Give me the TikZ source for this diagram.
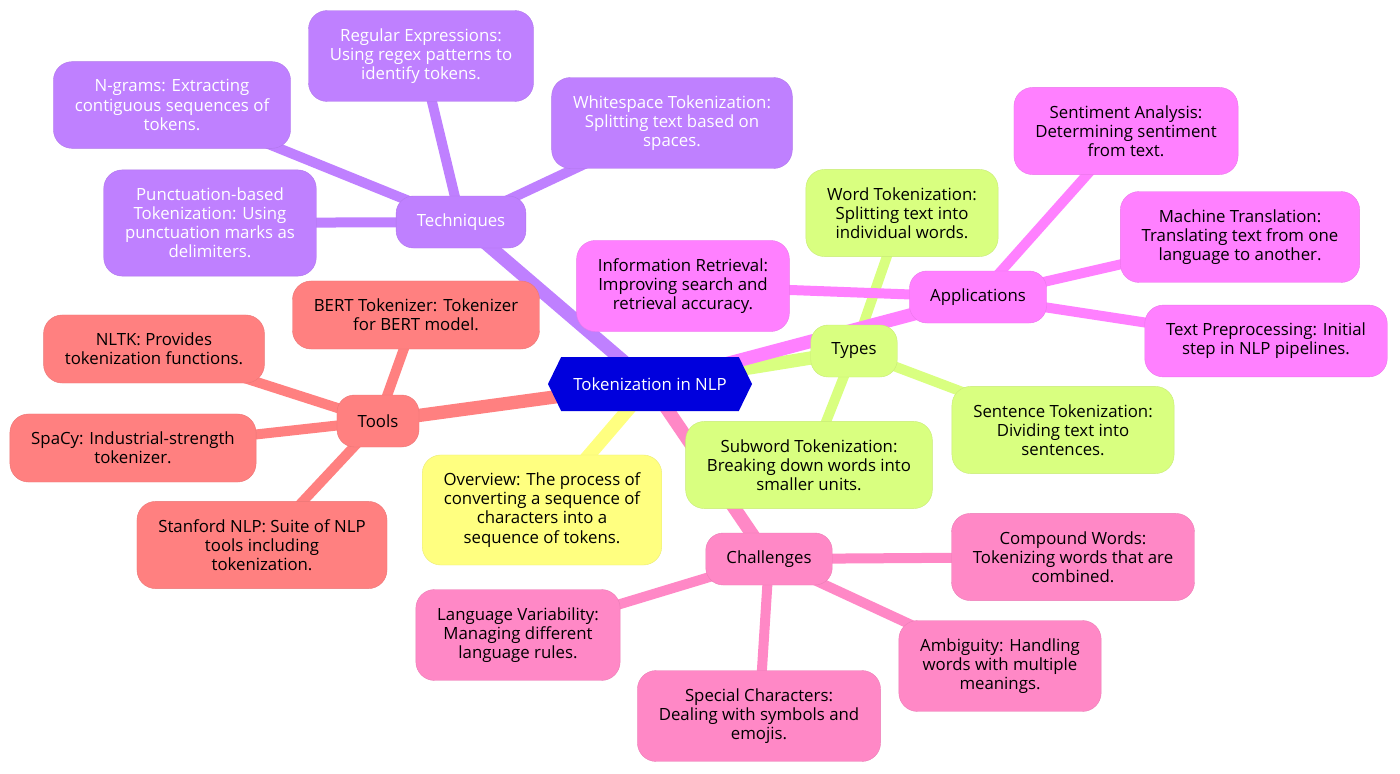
\documentclass[tikz,border=0pt]{standalone}
\usepackage{fontspec}
\setmainfont{Open Sans}
\usetikzlibrary{shapes.symbols,backgrounds}

\definecolor{rootblue}{HTML}{0000DD}
\definecolor{tech}{HTML}{BF80FF}
\definecolor{tool}{HTML}{FF8080}
\definecolor{over}{HTML}{FFFF80}
\definecolor{type}{HTML}{D9FF80}
\definecolor{app}{HTML}{FF80FF}
\definecolor{chal}{HTML}{FF88C6}

\begin{document}
\begin{tikzpicture}[x=0.75pt, y=-0.75pt,
	every node/.style={font=\fontsize{12.6}{14.3}\selectfont, align=center},
	root/.style={signal, signal to=west and east, signal pointer angle=128, fill=rootblue, text=white, minimum width=153pt, minimum height=40.5pt, inner xsep=2pt},
	cat/.style={rounded corners=13pt, fill=#1, draw=#1!92!black, line width=.3pt, inner xsep=15.5pt, inner ysep=13pt, minimum height=39pt},
	leaf/.style={rounded corners=14pt, fill=#1, draw=#1!92!black, line width=.3pt, inner xsep=16pt, inner ysep=13.5pt},
	w/.style={text=white},
	br/.style={draw=#1, line width=10pt},
	tw/.style={draw=#1, line width=7.5pt}]
		\path[use as bounding box] (0,0) rectangle (1400,774);

		\node[root] (nlp) at (650,384) {Tokenization in NLP};

		\node[cat=tech, w] (tech) at (461,222) {Techniques};
		\node[leaf=tech, w] (regex) at (421,56) {Regular Expressions:\\Using regex patterns to\\identify tokens.};
		\node[leaf=tech, w] (ngram) at (172,105) {N-grams: Extracting\\contiguous sequences of\\tokens.};
		\node[leaf=tech, w] (space) at (672,123) {Whitespace Tokenization:\\Splitting text based on\\spaces.};
		\node[leaf=tech, w] (punct) at (210,223) {Punctuation-based\\Tokenization: Using\\punctuation marks as\\delimiters.};

		\node[cat=tool] (tools) at (378,421) {Tools};
		\node[leaf=tool] (bert) at (416,315) {BERT Tokenizer: Tokenizer\\for BERT model.};
		\node[leaf=tool] (nltk) at (154,349) {NLTK: Provides\\tokenization functions.};
		\node[leaf=tool] (spacy) at (133,448) {SpaCy: Industrial-strength\\tokenizer.};
		\node[leaf=tool] (stanford) at (262,545) {Stanford NLP: Suite of NLP\\tools including\\tokenization.};

		\node[leaf=over] (overview) at (542,510) {Overview: The process of\\converting a sequence of\\characters into a\\sequence of tokens.};

		\node[cat=type] (types) at (854,351) {Types};
		\node[leaf=type] (word) at (902,213) {Word Tokenization:\\Splitting text into\\individual words.};
		\node[leaf=type] (subword) at (809,465) {Subword Tokenization:\\Breaking down words into\\smaller units.};
		\node[leaf=type] (sentence) at (1063,430) {Sentence Tokenization:\\Dividing text into\\sentences.};

		\node[cat=app] (apps) at (978,297) {Applications};
		\node[leaf=app] (sentiment) at (1126,131) {Sentiment Analysis:\\Determining sentiment\\from text.};
		\node[leaf=app] (mt) at (1240,237) {Machine Translation:\\Translating text from one\\language to another.};
		\node[leaf=app] (prep) at (1266,341) {Text Preprocessing: Initial\\step in NLP pipelines.};
		\node[leaf=app] (ir) at (683,286) {Information Retrieval:\\Improving search and\\retrieval accuracy.};

		\node[cat=chal] (chal) at (769,559) {Challenges};
		\node[leaf=chal] (compound) at (1073,557) {Compound Words:\\Tokenizing words that are\\combined.};
		\node[leaf=chal] (ambig) at (1000,666) {Ambiguity: Handling\\words with multiple\\meanings.};
		\node[leaf=chal] (special) at (759,716) {Special Characters:\\Dealing with symbols and\\emojis.};
		\node[leaf=chal] (langvar) at (518,635) {Language Variability:\\Managing different\\language rules.};

		\begin{pgfonlayer}{background}
		\fill[white] (0,0) rectangle (1400,774);
		\path[tw=tech] (tech.center) edge (regex.center) edge (ngram.center) edge (space.center) edge (punct.center);
		\path[tw=tool] (tools.center) edge (bert.center) edge (nltk.center) edge (spacy.center) edge (stanford.center);
		\path[tw=type] (types.center) edge (word.center) edge (subword.center) edge (sentence.center);
		\path[tw=app] (apps.center) edge (sentiment.center) edge (mt.center) edge (prep.center) edge (ir.center);
		\path[tw=chal] (chal.center) edge (compound.center) edge (ambig.center) edge (special.center) edge (langvar.center);
		\path[br=tech] (nlp.center) edge (tech.center);
		\path[br=tool] (nlp.center) edge (tools.center);
		\path[br=over] (nlp.center) edge (overview.center);
		\path[br=type] (nlp.center) edge (types.center);
		\path[br=chal] (nlp.center) edge (chal.center);
		\path[br=app] (nlp.center) edge (apps.center);
		\end{pgfonlayer}
	\end{tikzpicture}
\end{document}
